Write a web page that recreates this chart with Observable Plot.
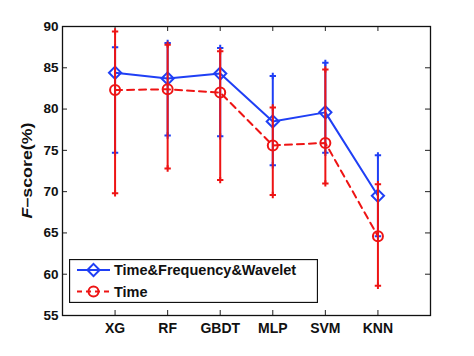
<!DOCTYPE html>
<html><head><meta charset="utf-8">
<script src="https://cdn.jsdelivr.net/npm/d3@7"></script>
<script src="https://cdn.jsdelivr.net/npm/@observablehq/plot@0.6"></script>
<style>
body{margin:0;background:#fff;font-family:"Liberation Sans",Arial,sans-serif}
#wrap{position:relative;width:474px;height:356px}
#legend{position:absolute;left:69px;top:259px}
</style></head><body><div id="wrap"></div>
<script>
const categories = ["XG","RF","GBDT","MLP","SVM","KNN"];
const seriesNames = ["Time&Frequency&Wavelet","Time"];
const tfwMean  = [84.4,83.7,84.3,78.5,79.6,69.5];
const tfwUpper = [87.5,88.0,87.4,84.0,85.6,74.4];
const tfwLower = [74.7,76.8,76.7,73.2,74.7,64.6];
const timeMean  = [82.3,82.4,82.0,75.6,75.9,64.6];
const timeUpper = [89.4,87.8,87.0,80.2,84.8,70.9];
const timeLower = [69.8,72.8,71.4,69.6,71.0,58.6];
const yTicks = [55,60,65,70,75,80,85,90];

const BLUE = "#1f3ff5", RED = "#ee1414";
const W = 474, H = 356, ML = 62, MR = 44, MT = 26, MB = 41;
const innerW = W - ML - MR, innerH = H - MT - MB;
const xPos = categories.map((c, i) => i + 1);

const tfw = categories.map((c, i) => ({x: xPos[i], mean: tfwMean[i], lo: tfwLower[i], hi: tfwUpper[i]}));
const tim = categories.map((c, i) => ({x: xPos[i], mean: timeMean[i], lo: timeLower[i], hi: timeUpper[i]}));

function seriesMarks(rows, color, symbol, r, dash) {
  return [
    Plot.ruleX(rows, {x: "x", y1: "lo", y2: "hi", stroke: color, strokeWidth: 2}),
    Plot.dot(rows, {x: "x", y: "lo", symbol: "plus", r: 2.2, stroke: color, strokeWidth: 2}),
    Plot.dot(rows, {x: "x", y: "hi", symbol: "plus", r: 2.2, stroke: color, strokeWidth: 2}),
    Plot.line(rows, {x: "x", y: "mean", stroke: color, strokeWidth: 2, strokeDasharray: dash}),
    Plot.dot(rows, {x: "x", y: "mean", symbol, r, stroke: color, fill: "none", strokeWidth: 2})
  ];
}

const chart = Plot.plot({
  width: W, height: H,
  marginLeft: ML, marginRight: MR, marginTop: MT, marginBottom: MB,
  style: {fontFamily: '"Liberation Sans", Arial, sans-serif', fontWeight: "bold", color: "#111", background: "#fff"},
  x: {domain: [0, categories.length + 1], axis: null},
  y: {domain: [55, 90], axis: null},
  marks: [
    Plot.tickY(yTicks, {y: d => d, insetRight: innerW - 5, stroke: "#222"}),
    Plot.tickY(yTicks, {y: d => d, insetLeft: innerW - 5, stroke: "#222"}),
    Plot.tickX(xPos, {x: d => d, insetTop: innerH - 5, stroke: "#222"}),
    Plot.tickX(xPos, {x: d => d, insetBottom: innerH - 5, stroke: "#222"}),
    Plot.axisY({ticks: yTicks, tickSize: 0, tickPadding: 4, label: null, fontSize: 13.5}),
    Plot.axisX({ticks: xPos, tickSize: 0, tickPadding: 8, label: null, fontSize: 14,
                tickFormat: d => categories[d - 1]}),
    ...seriesMarks(tfw, BLUE, "diamond2", 5.5, null),
    ...seriesMarks(tim, RED, "circle", 5, "7,5"),
    Plot.frame({stroke: "#111", strokeWidth: 1.3})
  ]
});

const wrap = document.getElementById("wrap");
wrap.appendChild(chart);

const svg = d3.select(chart);
const yl = svg.append("text")
  .attr("transform", `translate(32,${MT + innerH / 2}) rotate(-90)`)
  .attr("text-anchor", "middle")
  .attr("font-size", 15.5)
  .attr("font-weight", "bold")
  .attr("fill", "#111")
  .attr("textLength", 96)
  .attr("lengthAdjust", "spacingAndGlyphs");
yl.append("tspan").attr("font-style", "italic").text("F");
yl.append("tspan").text("–score(%)");

const legW = 249, legH = 44;
const leg = d3.select(wrap).append("svg").attr("id", "legend")
  .attr("width", legW).attr("height", legH);
leg.append("rect").attr("x", 0.5).attr("y", 0.5).attr("width", legW - 1).attr("height", legH - 1)
  .attr("fill", "#fff").attr("stroke", "#111").attr("stroke-width", 1.3);
const entries = [
  {name: seriesNames[0], color: BLUE, sym: d3.symbolDiamond2, size: Math.PI * 5.5 * 5.5, dash: null, y: 11},
  {name: seriesNames[1], color: RED, sym: d3.symbolCircle, size: Math.PI * 5 * 5, dash: "5,4", y: 32.5}
];
for (const e of entries) {
  leg.append("line").attr("x1", 8).attr("x2", 41).attr("y1", e.y).attr("y2", e.y)
    .attr("stroke", e.color).attr("stroke-width", 2).attr("stroke-dasharray", e.dash);
  leg.append("path").attr("d", d3.symbol(e.sym, e.size)()).attr("transform", `translate(24.5,${e.y})`)
    .attr("fill", "none").attr("stroke", e.color).attr("stroke-width", 2);
  leg.append("text").attr("x", 45).attr("y", e.y).attr("dy", "0.35em")
    .attr("font-size", 14.5).attr("font-weight", "bold").attr("fill", "#111")
    .attr("font-family", '"Liberation Sans", Arial, sans-serif').text(e.name);
}
</script></body></html>
